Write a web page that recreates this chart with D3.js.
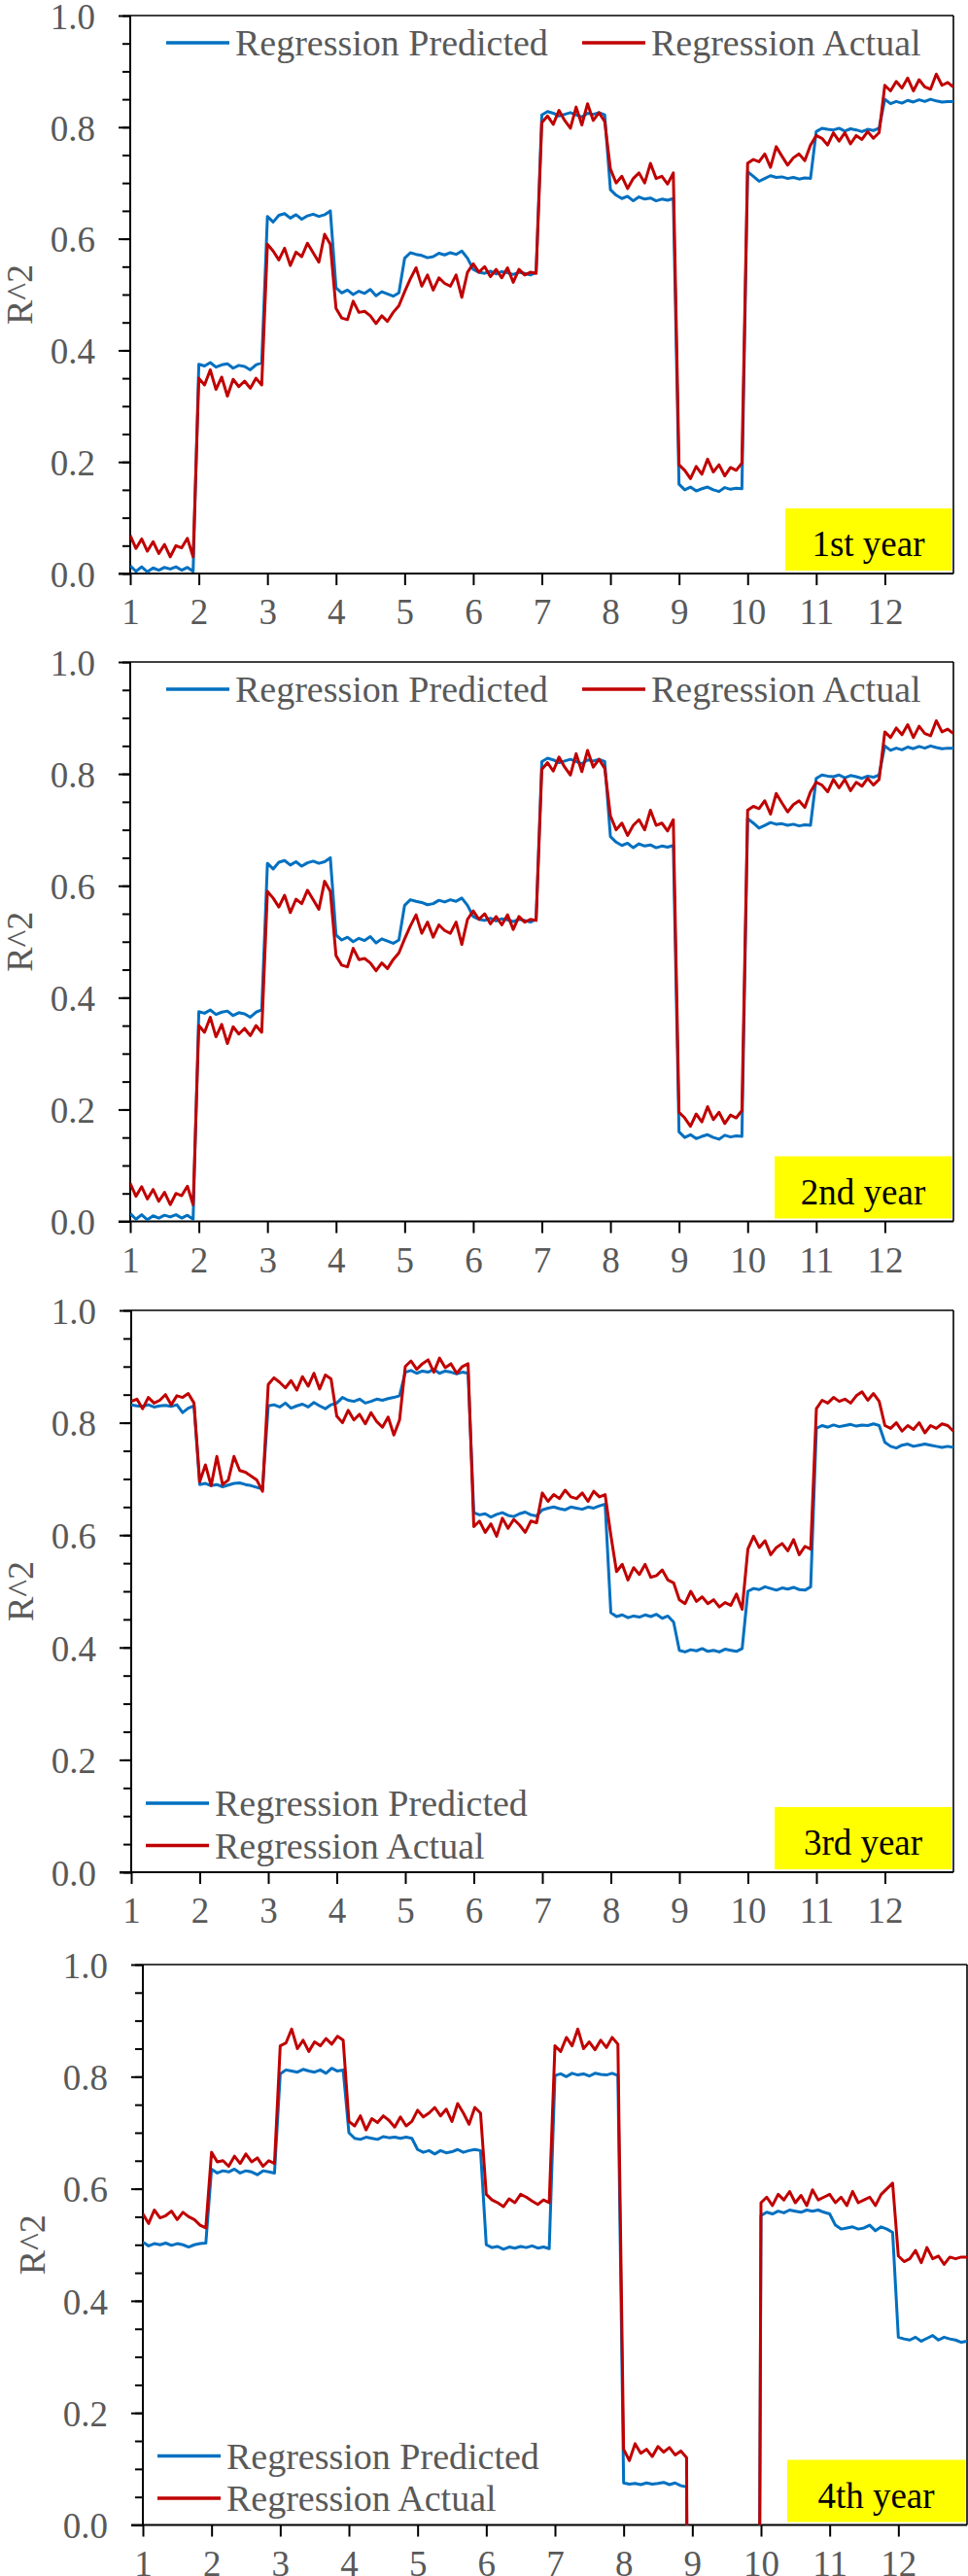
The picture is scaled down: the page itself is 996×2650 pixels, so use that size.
<!DOCTYPE html>
<html>
<head>
<meta charset="utf-8">
<script src="https://cdn.jsdelivr.net/npm/d3@7"></script>
<style>
  body { margin: 0; background: #fff; }
  svg { display: block; font-family: "Liberation Serif", "Times New Roman", serif; }
</style>
</head>
<body>
<svg id="chart" width="996" height="2650"></svg>
<script>
// sampled 12 points per month, x = 1 + i/12 (last point sits at 13)
const monthTicks = [1, 2, 3, 4, 5, 6, 7, 8, 9, 10, 11, 12];
const yearLabels = ["1st year", "2nd year", "3rd year", "4th year"];
const seriesNames = ["Regression Predicted", "Regression Actual"];

// 1st and 2nd year panels show the same curves
const pred1 = [
  .014,.004,.012,.003,.010,.006,.011,.008,.012,.006,.011,.004,
  .375,.372,.378,.370,.374,.376,.368,.373,.371,.365,.374,.378,
  .640,.630,.642,.645,.637,.643,.635,.641,.644,.640,.643,.650,
  .512,.503,.508,.500,.506,.502,.509,.498,.505,.501,.497,.503,
  .565,.575,.572,.570,.566,.568,.574,.571,.575,.572,.578,.565,
  .545,.540,.538,.542,.537,.541,.539,.536,.540,.538,.535,.540,
  .822,.828,.825,.820,.823,.826,.822,.818,.825,.823,.826,.822,
  .688,.678,.672,.676,.668,.675,.671,.673,.668,.671,.669,.672,
  .160,.150,.155,.148,.152,.155,.150,.147,.154,.151,.153,.152,
  .720,.712,.703,.708,.713,.710,.711,.708,.710,.707,.709,.708,
  .792,.798,.796,.795,.798,.793,.797,.795,.792,.796,.794,.798,
  .850,.842,.846,.843,.848,.845,.849,.846,.850,.847,.845,.846,
  .846
];
const act1 = [
  .068,.045,.062,.040,.057,.036,.052,.030,.050,.046,.063,.030,
  .350,.338,.365,.330,.352,.318,.348,.335,.345,.332,.350,.338,
  .590,.578,.562,.583,.552,.576,.568,.592,.575,.558,.608,.590,
  .475,.458,.455,.488,.468,.470,.462,.448,.462,.452,.468,.480,
  .505,.528,.548,.515,.535,.508,.530,.520,.515,.535,.495,.540,
  .555,.540,.550,.532,.545,.530,.548,.522,.545,.535,.540,.538,
  .808,.820,.805,.830,.812,.798,.836,.804,.842,.812,.826,.810,
  .725,.700,.712,.690,.708,.718,.700,.735,.708,.712,.698,.718,
  .195,.185,.170,.192,.178,.205,.182,.195,.175,.190,.185,.198,
  .735,.742,.738,.752,.728,.765,.748,.732,.745,.752,.740,.768,
  .785,.780,.768,.790,.775,.790,.770,.785,.778,.792,.780,.790,
  .875,.865,.882,.870,.888,.865,.885,.872,.868,.895,.875,.880,
  .872
];

const pred3 = [
  .832,.830,.829,.832,.828,.830,.831,.829,.832,.818,.826,.830,
  .690,.692,.688,.690,.686,.689,.692,.693,.690,.688,.685,.682,
  .830,.832,.828,.835,.826,.830,.833,.828,.836,.830,.825,.832,
  .835,.845,.840,.838,.842,.835,.838,.842,.840,.843,.845,.848,
  .890,.893,.888,.892,.890,.895,.888,.892,.890,.887,.890,.888,
  .640,.636,.638,.632,.637,.640,.635,.633,.638,.641,.636,.634,
  .645,.648,.650,.647,.645,.650,.648,.646,.650,.648,.652,.655,
  .462,.455,.458,.453,.456,.454,.458,.455,.459,.452,.456,.445,
  .395,.392,.396,.394,.398,.393,.395,.392,.397,.395,.393,.398,
  .500,.505,.503,.508,.505,.502,.506,.504,.507,.503,.502,.508,
  .790,.795,.792,.796,.793,.795,.797,.794,.796,.795,.798,.795,
  .765,.758,.755,.760,.762,.758,.760,.762,.760,.758,.756,.758,
  .756
];
const act3 = [
  .838,.842,.825,.845,.835,.840,.850,.832,.848,.845,.852,.835,
  .695,.725,.688,.740,.690,.698,.740,.715,.712,.705,.698,.678,
  .868,.880,.872,.862,.875,.858,.882,.865,.888,.860,.885,.878,
  .812,.800,.822,.805,.815,.798,.818,.802,.792,.810,.778,.805,
  .900,.910,.895,.905,.912,.890,.915,.898,.905,.888,.900,.905,
  .615,.625,.605,.620,.598,.630,.612,.628,.618,.605,.625,.622,
  .675,.660,.672,.665,.680,.668,.665,.675,.660,.678,.668,.672,
  .600,.535,.548,.520,.542,.530,.548,.525,.528,.538,.520,.515,
  .485,.478,.500,.482,.490,.478,.485,.472,.480,.475,.495,.468,
  .575,.598,.578,.590,.565,.578,.585,.572,.592,.565,.580,.575,
  .825,.840,.835,.845,.838,.842,.835,.848,.855,.840,.852,.838,
  .795,.790,.800,.785,.795,.788,.800,.782,.795,.790,.798,.795,
  .785
];

// month 9 of the 4th year drops below the axis (clipped)
const pred4 = [
  .505,.498,.502,.500,.503,.499,.502,.500,.496,.500,.502,.503,
  .635,.628,.632,.630,.635,.628,.632,.630,.625,.632,.630,.628,
  .805,.812,.810,.808,.813,.810,.808,.812,.806,.815,.810,.812,
  .700,.690,.688,.692,.690,.688,.693,.691,.692,.690,.692,.690,
  .670,.665,.668,.662,.668,.664,.666,.670,.665,.668,.670,.668,
  .500,.495,.497,.492,.496,.494,.497,.495,.498,.494,.496,.493,
  .802,.805,.800,.806,.803,.805,.801,.806,.804,.803,.806,.802,
  .075,.073,.074,.072,.075,.073,.074,.076,.072,.075,.070,.068,
  -2,-2,-2,-2,-2,-2,-2,-2,-2,-2,-2,-2,
  .552,.558,.555,.560,.557,.562,.560,.558,.562,.560,.562,.558,
  .555,.535,.528,.530,.532,.528,.530,.535,.525,.532,.528,.522,
  .335,.332,.330,.335,.328,.333,.338,.330,.335,.332,.330,.326,
  .328
];
const act4 = [
  .555,.538,.562,.548,.552,.560,.545,.558,.550,.545,.535,.530,
  .665,.648,.650,.640,.658,.645,.662,.648,.655,.640,.650,.645,
  .855,.860,.885,.850,.865,.845,.862,.855,.868,.858,.872,.865,
  .720,.712,.730,.705,.725,.718,.730,.722,.710,.728,.712,.720,
  .740,.728,.735,.745,.730,.742,.720,.752,.735,.715,.745,.735,
  .590,.580,.575,.568,.582,.575,.590,.585,.578,.572,.580,.575,
  .855,.845,.870,.855,.885,.850,.862,.848,.865,.852,.870,.858,
  .135,.115,.145,.128,.135,.122,.140,.130,.138,.125,.132,.120,
  -2,-2,-2,-2,-2,-2,-2,-2,-2,-2,-2,-2,
  .575,.585,.570,.590,.580,.595,.575,.588,.570,.598,.580,.585,
  .590,.575,.585,.570,.595,.575,.580,.585,.570,.590,.600,.610,
  .480,.470,.475,.490,.468,.495,.475,.480,.465,.478,.475,.478,
  .478
];

const colors = { pred: "#0070C0", act: "#C00000" };
const grey = "#595959";
const serif = "'Liberation Serif', 'Times New Roman', serif";

// panel frames (pixel boxes of each plot area)
const panels = [
  { pred: pred1, act: act1, label: yearLabels[0], left: 134, right: 981, top: 16,   bottom: 590,    legend: "row", boxW: 171 },
  { pred: pred1, act: act1, label: yearLabels[1], left: 134, right: 981, top: 681,  bottom: 1256.5, legend: "row", boxW: 182 },
  { pred: pred3, act: act3, label: yearLabels[2], left: 135, right: 981, top: 1348, bottom: 1926,   legend: "col", boxW: 182 },
  { pred: pred4, act: act4, label: yearLabels[3], left: 147, right: 995, top: 2021, bottom: 2597.5, legend: "col", boxW: 183 }
];

const svg = d3.select("#chart");

panels.forEach((p, k) => {
  const x = d3.scaleLinear().domain([1, 13]).range([p.left, p.right]);
  const y = d3.scaleLinear().domain([0, 1]).range([p.bottom, p.top]);
  const g = svg.append("g");

  // clip so lines that fall below 0 are cut at the axis
  const clipId = "clip" + k;
  g.append("clipPath").attr("id", clipId)
    .append("rect")
    .attr("x", p.left).attr("y", p.top)
    .attr("width", p.right - p.left).attr("height", p.bottom - p.top);

  // minor y ticks
  g.append("g")
    .attr("transform", `translate(${p.left},0)`)
    .call(d3.axisLeft(y).tickValues(d3.range(0, 1.001, 0.05)).tickSize(8).tickFormat(""))
    .call(a => a.select(".domain").remove())
    .call(a => a.selectAll("line").attr("stroke", "#000").attr("stroke-width", 2));

  // major y ticks + labels
  g.append("g")
    .attr("transform", `translate(${p.left},0)`)
    .call(d3.axisLeft(y).tickValues([0, 0.2, 0.4, 0.6, 0.8, 1.0]).tickSize(12).tickPadding(24).tickFormat(d3.format(".1f")))
    .call(a => a.select(".domain").remove())
    .call(a => a.selectAll("line").attr("stroke", "#000").attr("stroke-width", 2))
    .call(a => a.selectAll("text").attr("fill", grey).attr("dy", "0.36em")
      .style("font-size", "37px").style("font-family", serif));

  // x ticks
  g.append("g")
    .attr("transform", `translate(0,${p.bottom})`)
    .call(d3.axisBottom(x).tickValues(monthTicks).tickSize(12).tickPadding(14).tickFormat(d3.format("d")))
    .call(a => a.select(".domain").remove())
    .call(a => a.selectAll("line").attr("stroke", "#000").attr("stroke-width", 2))
    .call(a => a.selectAll("text").attr("fill", grey)
      .style("font-size", "37px").style("font-family", serif));

  // frame: axes thicker, top/right thinner
  g.append("line").attr("x1", p.left).attr("x2", p.right).attr("y1", p.top).attr("y2", p.top)
    .attr("stroke", "#000").attr("stroke-width", 1.6);
  g.append("line").attr("x1", p.right).attr("x2", p.right).attr("y1", p.top).attr("y2", p.bottom)
    .attr("stroke", "#000").attr("stroke-width", 1.6);
  g.append("line").attr("x1", p.left).attr("x2", p.left).attr("y1", p.top).attr("y2", p.bottom)
    .attr("stroke", "#000").attr("stroke-width", 2);
  g.append("line").attr("x1", p.left - 12).attr("x2", p.right).attr("y1", p.bottom).attr("y2", p.bottom)
    .attr("stroke", "#000").attr("stroke-width", 2);

  // y title
  g.append("text")
    .attr("transform", `translate(${p.left - 101},${(p.top + p.bottom) / 2}) rotate(-90)`)
    .attr("text-anchor", "middle")
    .attr("fill", grey)
    .style("font-size", "38px").style("font-family", serif)
    .text("R^2");

  // year badge
  const bx = p.right - 2 - p.boxW, by = p.bottom - 67;
  g.append("rect").attr("x", bx).attr("y", by).attr("width", p.boxW).attr("height", 64).attr("fill", "#FFFF00");
  g.append("text")
    .attr("x", bx + p.boxW / 2).attr("y", by + 49)
    .attr("text-anchor", "middle").attr("fill", "#000")
    .style("font-size", "37px").style("font-family", serif)
    .text(p.label);

  // the two lines
  const line = d3.line().x((d, i) => x(1 + i / 12)).y(d => y(d));
  const lines = g.append("g").attr("clip-path", `url(#${clipId})`);
  lines.append("path").datum(p.pred)
    .attr("d", line).attr("fill", "none").attr("stroke", colors.pred)
    .attr("stroke-width", 3).attr("stroke-linejoin", "round");
  lines.append("path").datum(p.act)
    .attr("d", line).attr("fill", "none").attr("stroke", colors.act)
    .attr("stroke-width", 3).attr("stroke-linejoin", "round");

  // legend
  let items;
  if (p.legend === "row") {
    const ly = p.top + 28;
    items = [
      { x0: p.left + 37, name: seriesNames[0], c: colors.pred, y: ly },
      { x0: p.left + 465, name: seriesNames[1], c: colors.act, y: ly }
    ];
  } else {
    items = [
      { x0: p.left + 15, name: seriesNames[0], c: colors.pred, y: p.bottom - 71 },
      { x0: p.left + 15, name: seriesNames[1], c: colors.act, y: p.bottom - 27.5 }
    ];
  }
  items.forEach(it => {
    g.append("line").attr("x1", it.x0).attr("x2", it.x0 + 65).attr("y1", it.y).attr("y2", it.y)
      .attr("stroke", it.c).attr("stroke-width", 3.5);
    g.append("text").attr("x", it.x0 + 71).attr("y", it.y + 13)
      .attr("fill", grey).style("font-size", "38px").style("font-family", serif)
      .text(it.name);
  });
});
</script>
</body>
</html>
